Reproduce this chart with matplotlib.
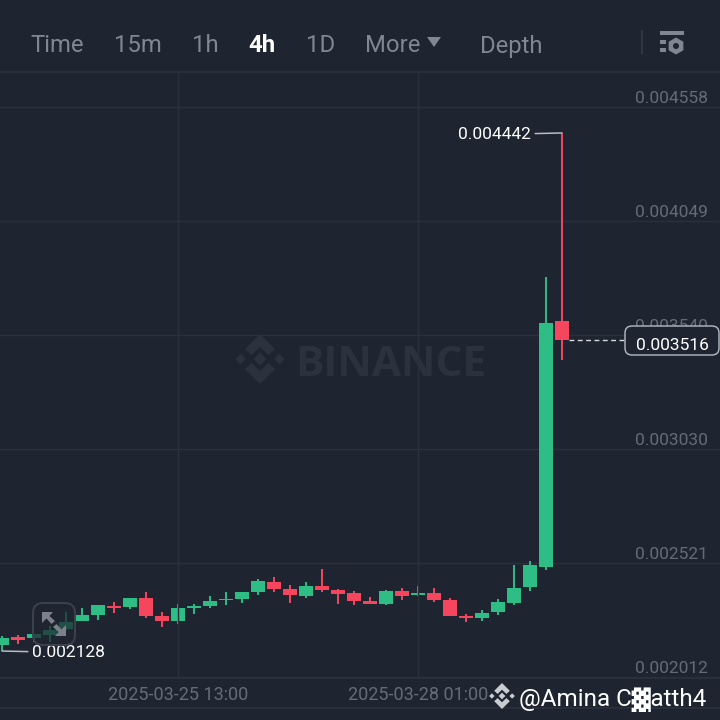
import matplotlib
matplotlib.use('Agg')
import matplotlib.pyplot as plt
from matplotlib.patches import Polygon, FancyBboxPatch, Rectangle, RegularPolygon, Circle

BG = '#1e2530'
GRID = '#2a313c'
GREEN = '#2ebd85'
RED = '#f6465d'
MUTED = '#646c78'
HEAD = '#7f8793'

plt.rcParams['font.family'] = ['Roboto', 'DejaVu Sans']

# 4h candles, prices
opens = [0.002157, 0.002189, 0.002186, 0.002201, 0.002227, 0.002262, 0.002289, 0.002329, 0.002323,
         0.002365, 0.002285, 0.002264, 0.002319, 0.002329, 0.002355, 0.002361, 0.002392, 0.002438,
         0.002405, 0.002375, 0.002420, 0.002401, 0.002386, 0.002350, 0.002340, 0.002395, 0.002380,
         0.002386, 0.002355, 0.002283, 0.002274, 0.002301, 0.002344, 0.002413, 0.002504, 0.003600]
closes = [0.002186, 0.002177, 0.002202, 0.002222, 0.002258, 0.002289, 0.002334, 0.002322, 0.002365,
          0.002286, 0.002264, 0.002320, 0.002329, 0.002352, 0.002362, 0.002393, 0.002441, 0.002404,
          0.002378, 0.002419, 0.002402, 0.002384, 0.002353, 0.002340, 0.002398, 0.002375, 0.002387,
          0.002356, 0.002286, 0.002276, 0.002297, 0.002347, 0.002411, 0.002511, 0.003594, 0.003516]
highs = [0.002195, 0.002200, 0.002204, 0.002240, 0.002302, 0.002320, 0.002334, 0.002347, 0.002365,
         0.002392, 0.002302, 0.002338, 0.002338, 0.002374, 0.002392, 0.002393, 0.002450, 0.002459,
         0.002423, 0.002438, 0.002495, 0.002405, 0.002398, 0.002370, 0.002401, 0.002411, 0.002419,
         0.002411, 0.002366, 0.002294, 0.002311, 0.002359, 0.002513, 0.002530, 0.003800, 0.004442]
lows = [0.002128, 0.002159, 0.002168, 0.002168, 0.002222, 0.002262, 0.002267, 0.002298, 0.002316,
        0.002277, 0.002235, 0.002249, 0.002294, 0.002320, 0.002334, 0.002344, 0.002378, 0.002392,
        0.002344, 0.002366, 0.002392, 0.002338, 0.002334, 0.002338, 0.002335, 0.002356, 0.002375,
        0.002349, 0.002283, 0.002259, 0.002264, 0.002290, 0.002335, 0.002398, 0.002490, 0.003426]

price_ticks = [0.004558, 0.004049, 0.003540, 0.003030, 0.002521, 0.002012]
time_idx = [11, 26]
time_labels = ['2025-03-25 13:00', '2025-03-28 01:00']
tabs = ['Time', '15m', '1h', '4h', '1D', 'More', 'Depth']
tab_x = [30, 114, 192, 248, 306, 365, 480]
last_price = closes[-1]
max_idx = highs.index(max(highs))
min_idx = lows.index(min(lows))


def draw_logo(ax, cx, cy, r, color, alpha=1, zorder=2):
    # centre square, side squares, top and bottom chevrons
    s = r * 0.26
    for dx, dy, q in [(0, 0, s), (-r * 0.78, 0, s * 0.8), (r * 0.78, 0, s * 0.8)]:
        ax.add_patch(Polygon([(cx + dx - q, cy + dy), (cx + dx, cy + dy - q),
                              (cx + dx + q, cy + dy), (cx + dx, cy + dy + q)],
                             fc=color, ec='none', alpha=alpha, zorder=zorder))
    for sign in [-1, 1]:
        ax.add_patch(Polygon([(cx, cy + sign * r), (cx + r * 0.6, cy + sign * r * 0.4),
                              (cx + r * 0.34, cy + sign * r * 0.16), (cx, cy + sign * r * 0.48),
                              (cx - r * 0.34, cy + sign * r * 0.16), (cx - r * 0.6, cy + sign * r * 0.4)],
                             fc=color, ec='none', alpha=alpha, zorder=zorder))


fig = plt.figure(figsize=(7.2, 7.2), dpi=100, facecolor=BG)

# chart axes, candle i sits at pixel 2 + 16 * i
ax = fig.add_axes([0, 0, 1, 1], facecolor=BG)
px_per_price = (677 - 107) / (price_ticks[0] - price_ticks[-1])
ax.set_xlim(-2 / 16, 718 / 16)
ax.set_ylim(price_ticks[-1] - 43 / px_per_price, price_ticks[-1] + 677 / px_per_price)
ax.axis('off')

# overlay in pixel coordinates for the app chrome
ui = fig.add_axes([0, 0, 1, 1], facecolor='none')
ui.set_xlim(0, 720)
ui.set_ylim(720, 0)
ui.axis('off')

ax.hlines(price_ticks, -1, 46, color=GRID, lw=1, zorder=1)
ui.hlines([72, 708], 0, 720, color=GRID, lw=1.3, zorder=1)
ui.hlines([677.5], 0, 720, color=GRID, lw=1.3, zorder=1)
ui.vlines([178, 418], 72, 677, color=GRID, lw=1, zorder=1)

# watermark
draw_logo(ui, 260, 359, 25, '#2b323d', zorder=0.5)
ui.text(295, 360, 'BINANCE', color='#2b323d', fontsize=30.5, fontweight='bold', family='Open Sans',
        ha='left', va='center_baseline', zorder=0.5)
ax.set_zorder(2)
ui.set_zorder(3)

# candles
for i in range(len(opens)):
    c = GREEN if closes[i] >= opens[i] else RED
    ax.vlines(i, lows[i], highs[i], color=c, lw=1.4, zorder=3)
    ax.bar(i, abs(closes[i] - opens[i]), bottom=min(opens[i], closes[i]), width=0.86, color=c, zorder=4)

# y labels, sit above their grid lines
for p in price_ticks:
    ax.annotate(f'{p:.6f}', xy=(1, p), xycoords=('axes fraction', 'data'), xytext=(-12, 10),
                textcoords='offset pixels', color=MUTED, fontsize=12.5, ha='right', va='center_baseline', zorder=2)

for i, lab in zip(time_idx, time_labels):
    ui.text(2 + 16 * i, 693.5, lab, color=MUTED, fontsize=13, ha='center', va='center_baseline', zorder=2)

# high and low leaders
ax.annotate(f'{highs[max_idx]:.6f}', xy=(max_idx, highs[max_idx]), xytext=(-31, 0), textcoords='offset pixels',
            color='white', fontsize=12.5, ha='right', va='center_baseline', zorder=6,
            arrowprops=dict(arrowstyle='-', color='#b7bdc6', lw=1.1, shrinkA=1, shrinkB=0))
ax.annotate(f'{lows[min_idx]:.6f}', xy=(min_idx, lows[min_idx]), xytext=(30, 0), textcoords='offset pixels',
            color='white', fontsize=12.5, ha='left', va='center_baseline', zorder=6,
            arrowprops=dict(arrowstyle='-', color='#b7bdc6', lw=1.1, shrinkA=1, shrinkB=0))

# last price line and box
ax.plot([35.45, 38.9], [last_price, last_price], color='#d5d8dd', lw=1, dashes=(3.5, 2.5), zorder=5)
ui.add_patch(FancyBboxPatch((630, 331), 84, 19, boxstyle='round,pad=5,rounding_size=7', fc=BG, ec='#b7bdc6',
                            lw=1, zorder=5))
ui.text(672, 344, f'{last_price:.6f}', color='white', fontsize=12.5, ha='center', va='center_baseline', zorder=6)

# header
for name, x in zip(tabs, tab_x):
    active = name == '4h'
    ui.text(x, 52.5, name, color='white' if active else HEAD, fontsize=17.2,
            fontweight='bold' if active else 'normal', ha='left', va='baseline')
ui.add_patch(Polygon([(427, 37), (441, 37), (434, 47)], fc=HEAD, ec='none'))
ui.vlines(642, 30, 54, color='#343b46', lw=1.2)
ui.add_patch(Rectangle((660, 31), 24, 4, fc=HEAD, ec='none'))
ui.add_patch(Rectangle((660, 40), 6, 4, fc=HEAD, ec='none'))
ui.add_patch(Rectangle((660, 48), 6, 4, fc=HEAD, ec='none'))
ui.add_patch(RegularPolygon((676, 46), 6, radius=8.5, fc=HEAD, ec='none'))
ui.add_patch(Circle((676, 46), 3, fc=BG, ec='none'))

# expand button over the candles
ui.add_patch(FancyBboxPatch((38, 608), 32, 32, boxstyle='round,pad=5,rounding_size=10', fc=BG, alpha=0.72,
                            ec='none', zorder=7))
ui.add_patch(FancyBboxPatch((38, 608), 32, 32, boxstyle='round,pad=5,rounding_size=10', fc='none', ec='#3b424d',
                            lw=1.4, zorder=7))
ui.add_patch(Polygon([(42, 612), (53, 612), (49.5, 616), (55, 621), (51.5, 624), (46.5, 618.5), (42, 623)],
                     fc='#7b808a', ec='none', zorder=8))
ui.add_patch(Polygon([(66, 636), (55, 636), (58.5, 632), (53, 627), (56.5, 624), (61.5, 629.5), (66, 625)],
                     fc='#7b808a', ec='none', zorder=8))

# share watermark
draw_logo(ui, 502, 696, 13, '#c9ccd1', zorder=8)
ui.text(519, 697, '@Amina C▓atth4', color='white', fontsize=17.5, ha='left', va='center_baseline', zorder=8)

fig.savefig('out.png', dpi=100, facecolor=BG)
